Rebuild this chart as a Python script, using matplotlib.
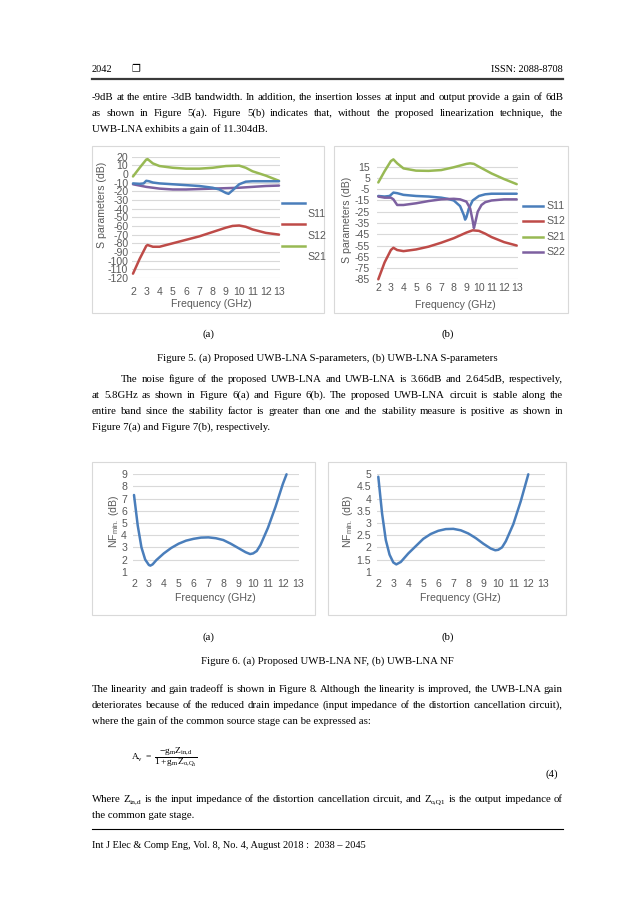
import math
import matplotlib
matplotlib.use('Agg')
import matplotlib.pyplot as plt
from matplotlib.lines import Line2D
from matplotlib.patches import Rectangle

W, H = 638, 902
plt.rcParams['font.family'] = 'Liberation Serif'
plt.rcParams['mathtext.fontset'] = 'custom'
plt.rcParams['mathtext.rm'] = 'Liberation Serif'
plt.rcParams['mathtext.it'] = 'Liberation Serif:italic'
plt.rcParams['mathtext.sf'] = 'Liberation Sans'
plt.rcParams['axes.unicode_minus'] = False

# ---- data ----
# Figure 5(a): proposed UWB-LNA S-parameters
f_s11a = [2, 2.5, 2.8, 3, 3.2, 3.5, 4, 5, 6, 7, 8, 8.5, 9, 9.2, 9.5, 10, 10.5, 11, 12, 13]
s11a = [-11, -11.5, -11, -8, -8.5, -10, -11, -12, -13, -14, -16, -18, -22, -23, -19, -12, -9, -8.5, -8.5, -8.5]
f_s12a = [2, 2.5, 3, 3.1, 3.5, 4, 5, 6, 7, 8, 9, 9.5, 10, 10.5, 11, 12, 13]
s12a = [-115, -98, -83, -82, -84, -84, -80, -76, -72, -67, -62, -60, -59.5, -61, -64, -68, -70]
f_s21a = [2, 2.5, 3, 3.1, 3.5, 4, 5, 6, 7, 8, 9, 10, 10.5, 11, 12, 13]
s21a = [-3, 7, 16.5, 17, 12, 9, 7, 6, 6, 7, 9, 9.5, 7, 3, -2, -8]
f_s22a = [2, 3, 4, 5, 6, 7, 8, 9, 10, 11, 12, 13]
s22a = [-12, -15, -17, -18, -18, -17.5, -17, -16.5, -16, -15, -14, -13.5]

# Figure 5(b): UWB-LNA S-parameters
f_s11b = [2, 2.5, 2.9, 3.2, 3.5, 4, 5, 6, 7, 7.5, 8, 8.5, 8.8, 8.9, 9.0, 9.2, 9.5, 10, 10.5, 11, 12, 13]
s11b = [-11, -11.5, -11, -8, -8.5, -10, -11, -11.5, -12.5, -13.5, -15, -20, -28, -32, -30, -22, -15, -11, -9.5, -9, -9, -9]
f_s12b = [2, 2.5, 3, 3.2, 3.5, 4, 5, 6, 7, 8, 9, 9.5, 10, 10.5, 11, 12, 13]
s12b = [-85, -70, -59, -57, -59, -60, -58.5, -56, -52.5, -48.5, -43.5, -41.5, -42, -44.5, -47.5, -52, -55]
f_s21b = [2, 2.5, 3, 3.2, 3.5, 4, 5, 6, 7, 8, 9, 9.3, 9.6, 10, 11, 12, 13]
s21b = [1, 11, 20, 21.5, 18, 13.5, 11.5, 11.3, 12, 14.5, 17.5, 18, 17.5, 15, 9, 4, -0.5]
f_s22b = [2, 2.5, 3, 3.2, 3.5, 4, 5, 6, 7, 8, 8.5, 9, 9.3, 9.5, 9.6, 9.7, 9.9, 10.2, 10.5, 11, 12, 13]
s22b = [-11.5, -12.5, -12.5, -14, -19, -19, -17.5, -15.5, -14, -13.5, -14, -16, -22, -33, -39.5, -35, -25, -19, -16.5, -15, -14, -14]

# Figure 6: NFmin
f_nfa = [2, 2.25, 2.5, 2.75, 3, 3.1, 3.25, 3.5, 4, 4.5, 5, 5.5, 6, 6.5, 7, 7.5, 8, 8.5, 9, 9.5,
         9.8, 10, 10.25, 10.5, 11, 11.5, 12, 12.25]
nfa = [7.3, 4.8, 3.0, 2.0, 1.55, 1.5, 1.6, 1.95, 2.5, 2.95, 3.3, 3.55, 3.7, 3.8, 3.82, 3.75, 3.6, 3.3, 2.95, 2.6,
       2.45, 2.5, 2.7, 3.2, 4.6, 6.3, 8.2, 9.0]
f_nfb = [2, 2.25, 2.5, 2.75, 3, 3.2, 3.5, 4, 4.5, 5, 5.5, 6, 6.5, 7, 7.5, 8, 8.5, 9, 9.5, 9.8,
         10, 10.25, 10.5, 11, 11.5, 12]
nfb = [4.9, 3.4, 2.3, 1.7, 1.38, 1.3, 1.4, 1.75, 2.05, 2.35, 2.55, 2.68, 2.75, 2.76, 2.7, 2.57, 2.38, 2.15, 1.95, 1.88,
       1.9, 2.0, 2.25, 2.95, 3.9, 5.0]

freq_ticks = list(range(2, 14))
yt_5a = list(range(-120, 21, 10))
yt_5b = list(range(-85, 16, 10))
yt_6a = list(range(1, 10))
yt_6b = [1, 1.5, 2, 2.5, 3, 3.5, 4, 4.5, 5]

BLUE, RED, GREEN, PURPLE = '#4a7ebb', '#be4b48', '#98b954', '#7d60a0'
GRAY_TXT = '#595959'
BODY = 7.72
SUB = 5.4
CH = 7.6
SANS = 'Liberation Sans'

fig = plt.figure(figsize=(W / 100, H / 100), dpi=100)
fig.patch.set_facecolor('white')
rend = fig.canvas.get_renderer()


def fx(x):
    return x / W


def fy(y):
    return 1 - y / H


def txt(x, y, s, size=BODY, ha='left', **kw):
    return fig.text(fx(x), fy(y + 3.5), s, fontsize=size, ha=ha, va='baseline', **kw)


def word(s, size):
    t = fig.text(0, 0, s, fontsize=size, va='baseline')
    return t, t.get_window_extent(rend).width


def put(t, x, base):
    # agg rounds each text bitmap on its own; shift so all words share pixel row `base`
    w, h, d = rend.get_text_width_height_descent(t.get_text(), t.get_fontproperties(), False)
    ymax = h - d
    yf = base + math.floor(h + 1e-9) - math.floor(ymax + 1e-9) - d
    t.set_position((fx(x), fy(yf)))


def justify(words, x0, x1, y, size=BODY):
    if isinstance(words, str):
        words = words.split()
    base = round(y + 3.5)
    items = []
    for wd in words:
        if isinstance(wd, tuple):
            t1, w1 = word(wd[0], size)
            t2, w2 = word(wd[1], SUB)
            items.append(([(t1, 0, 0), (t2, w1, 2)], w1 + w2))
        else:
            t1, w1 = word(wd, size)
            items.append(([(t1, 0, 0)], w1))
    gap = (x1 - x0 - sum(w for _, w in items)) / (len(items) - 1)
    x = x0
    for parts, w in items:
        for t, dx, dy in parts:
            put(t, x + dx, base + dy)
        x += w + gap


def hline(x0, x1, y, lw, color):
    fig.add_artist(Line2D([fx(x0), fx(x1)], [fy(y), fy(y)], lw=lw, color=color))


def frame(x0, y0, x1, y1):
    fig.add_artist(Rectangle((fx(x0), fy(y1)), (x1 - x0) / W, (y1 - y0) / H,
                             fill=False, ec='#d9d9d9', lw=0.8))


def make_ax(p2, p13, ya, va, yb, vb, ylim, yticks, xpad, ypad, xlab, ylab):
    sx = (p13 - p2) / 11
    left, right = p2 - 0.1 * sx, p13 + 0.1 * sx
    sy = (yb - ya) / (va - vb)
    top = ya - (ylim[1] - va) * sy
    bottom = ya + (va - ylim[0]) * sy
    ax = fig.add_axes([fx(left), fy(bottom), (right - left) / W, (bottom - top) / H])
    ax.set_xlim(1.9, 13.1)
    ax.set_ylim(*ylim)
    for sp in ax.spines.values():
        sp.set_visible(False)
    ax.patch.set_alpha(0)
    ax.grid(axis='y', color='#d9d9d9', lw=0.8)
    ax.set_axisbelow(True)
    ax.set_xticks(freq_ticks, [str(v) for v in freq_ticks], fontsize=CH, family=SANS, color=GRAY_TXT)
    ax.set_yticks(yticks, ['%g' % v for v in yticks], fontsize=CH, family=SANS, color=GRAY_TXT)
    ax.tick_params(axis='x', length=0, pad=xpad)
    ax.tick_params(axis='y', length=0, pad=ypad)
    ax.set_xlabel('Frequency (GHz)', fontsize=CH, family=SANS, color=GRAY_TXT)
    ax.xaxis.set_label_coords(fx(xlab[0]), fy(xlab[1]), transform=fig.transFigure)
    ax.xaxis.label.set_va('center')
    ax.set_ylabel(ylab[2], fontsize=CH, family=SANS, color=GRAY_TXT)
    ax.yaxis.set_label_coords(fx(ylab[0]), fy(ylab[1]), transform=fig.transFigure)
    ax.yaxis.label.set_va('center')
    return ax


# ---- header ----
txt(92, 68, '2042', 7.4)
txt(131, 68, '\u2750', 7.0, family='DejaVu Sans')
txt(563, 68, 'ISSN: 2088-8708', 7.4, ha='right')
hline(92, 563, 79, 1.6, '#3a3a3a')

justify('-9dB at the entire -3dB bandwidth. In addition, the insertion losses at input and output provide a gain of 6dB',
        92, 563, 97)
justify('as shown in Figure 5(a). Figure 5(b) indicates that, without the proposed linearization technique, the',
        92, 563, 113)
txt(92, 129, 'UWB-LNA exhibits a gain of 11.304dB.')

# ---- Figure 5 ----
frame(92, 146, 324, 313)
frame(334, 146, 568, 313)

ax = make_ax(133, 279, 156.5, 20, 278, -120, (-120, 20), yt_5a, 6.8, 2.5,
             (211.8, 304.3), (102, 205, 'S parameters (dB)'))
kw = dict(lw=1.8, clip_on=False, solid_capstyle='round')
ax.plot(f_s12a, s12a, color=RED, **kw)
ax.plot(f_s22a, s22a, color=PURPLE, **kw)
ax.plot(f_s21a, s21a, color=GREEN, **kw)
ax.plot(f_s11a, s11a, color=BLUE, **kw)
for c, lab, yl, yt in [(BLUE, 'S11', 202.7, 214), (RED, 'S12', 224.3, 235.7), (GREEN, 'S21', 245.7, 256.7)]:
    fig.add_artist(Line2D([fx(282), fx(305)], [fy(yl), fy(yl)], lw=1.8, color=c))
    fig.text(fx(307), fy(yt), lab, fontsize=CH, family=SANS, color=GRAY_TXT, va='center')

ax = make_ax(378.3, 516.7, 166.7, 15, 279.3, -85, (-85, 23), yt_5b, 2.8, 5,
             (455, 305), (346.7, 220, 'S parameters (dB)'))
ax.plot(f_s12b, s12b, color=RED, **kw)
ax.plot(f_s21b, s21b, color=GREEN, **kw)
ax.plot(f_s11b, s11b, color=BLUE, **kw)
ax.plot(f_s22b, s22b, color=PURPLE, **kw)
for c, lab, yl in [(BLUE, 'S11', 206), (RED, 'S12', 221), (GREEN, 'S21', 236.7), (PURPLE, 'S22', 252)]:
    fig.add_artist(Line2D([fx(522.7), fx(543.3)], [fy(yl), fy(yl)], lw=1.8, color=c))
    fig.text(fx(546.7), fy(yl), lab, fontsize=CH, family=SANS, color=GRAY_TXT, va='center')

txt(208, 333, '(a)', ha='center')
txt(448, 333, '(b)', ha='center')
txt(327, 357, 'Figure 5. (a) Proposed UWB-LNA S-parameters, (b) UWB-LNA S-parameters', ha='center')

justify('The noise figure of the proposed UWB-LNA and UWB-LNA is 3.66dB and 2.645dB, respectively,', 121, 563, 378)
justify('at 5.8GHz as shown in Figure 6(a) and Figure 6(b). The proposed UWB-LNA circuit is stable along the',
        92, 563, 394)
justify('entire band since the stability factor is greater than one and the stability measure is positive as shown in',
        92, 563, 410)
txt(92, 426, 'Figure 7(a) and Figure 7(b), respectively.')

# ---- Figure 6 ----
frame(92, 462, 315, 615)
frame(328, 462, 566, 615)

ax = make_ax(134, 297.7, 474.3, 9, 571.7, 1, (1, 9), yt_6a, 5, 4,
             (215.5, 597.7), (114.3, 521.7, r'NF$_{\mathsf{min.}}$ (dB)'))
ax.plot(f_nfa, nfa, color=BLUE, **kw)

ax = make_ax(378.3, 543.3, 474.3, 5, 571.7, 1, (1, 5), yt_6b, 5, 4,
             (460.8, 597.7), (348.3, 521.7, r'NF$_{\mathsf{min.}}$ (dB)'))
ax.plot(f_nfb, nfb, color=BLUE, **kw)

txt(208, 636, '(a)', ha='center')
txt(448, 636, '(b)', ha='center')
txt(327, 660, 'Figure 6. (a) Proposed UWB-LNA NF, (b) UWB-LNA NF', ha='center')

justify('The linearity and gain tradeoff is shown in Figure 8. Although the linearity is improved, the UWB-LNA gain',
        92, 563, 689)
justify('deteriorates because of the reduced drain impedance (input impedance of the distortion cancellation circuit),',
        92, 563, 705)
txt(92, 721, 'where the gain of the common source stage can be expressed as:')

fig.text(fx(131), fy(757), r'$\mathrm{A_v}\ =\ \dfrac{-\mathrm{g_m Z_{in{,}d}}}{1+\mathrm{g_m Z_{o{,}Q_1}}}$',
         fontsize=6.8, va='center', ha='left')
txt(558, 773, '(4)', ha='right')

line4 = (['Where', ('Z', 'in,d')]
         + 'is the input impedance of the distortion cancellation circuit, and'.split()
         + [('Z', 'o,Q1')] + 'is the output impedance of'.split())
justify(line4, 92, 563, 798)
txt(92, 814, 'the common gate stage.')

# ---- footer ----
hline(92, 563, 829, 0.8, 'black')
txt(92, 845, 'Int J Elec & Comp Eng, Vol. 8, No. 4, August 2018 :  2038 \u2013 2045', 7.4)

fig.savefig('out.png', dpi=100, facecolor='white')
